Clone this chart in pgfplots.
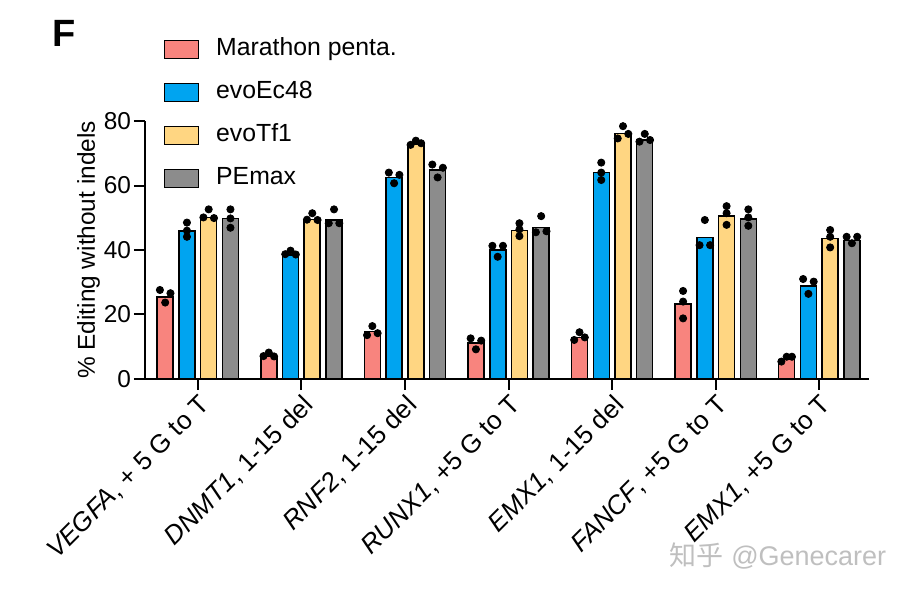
\documentclass[border=0pt]{standalone}
\usepackage{fontspec}
\setmainfont{Liberation Sans}
\newfontfamily\cjk{Noto Sans CJK SC}
\usepackage{pgfplots}
\usepackage{pgfplotstable}
\pgfplotsset{compat=1.18}

\definecolor{cPink}{RGB}{248,132,126}
\definecolor{cBlue}{RGB}{0,164,240}
\definecolor{cYellow}{RGB}{255,214,130}
\definecolor{cGrey}{RGB}{140,140,140}

% Mean values per target site (x = site index)
\pgfplotstableread{
x  mara  ec48  tf1   pemax
0  25.5  45.9  50.1  49.8
1   6.9  38.4  49.5  49.3
2  14.7  62.5  72.8  64.8
3  11.1  40.0  46.0  47.0
4  12.9  64.0  76.2  74.1
5  23.2  43.8  50.6  49.6
6   6.1  28.9  43.6  43.0
}\means

% Replicates: x = site, d = horizontal jitter slot (-1, 0, 1), y = value
\pgfplotstableread{
x d y
0 -1 27.6
0  1 26.6
0  0 23.7
1  0 8.2
1 -1 7.1
1  1 7.0
2  0 16.4
2 -1 13.6
2  1 14.2
3 -1 12.6
3  1 11.9
3  0 9.2
4  0 14.5
4 -1 12.1
4  1 12.9
5  0 27.3
5  0 24.0
5  0 18.8
6 -1 5.4
6  0 6.9
6  1 6.9
}\repMara

\pgfplotstableread{
x d y
0  0 48.5
0  0 46.0
0  0 44.1
1  0 39.8
1 -1 38.7
1  1 38.6
2 -1 64.0
2  1 63.3
2  0 60.7
3 -1 41.3
3  1 41.3
3  0 37.9
4  0 67.1
4  0 64.0
4  0 61.7
5  0 49.3
5 -1 41.5
5  1 41.5
6 -1 31.0
6  1 30.2
6  0 26.4
}\repEc

\pgfplotstableread{
x d y
0  0 52.6
0 -1 50.1
0  1 49.9
1  0 51.4
1 -1 49.4
1  1 49.3
2 -1 72.6
2  0 73.9
2  1 73.1
3  0 48.3
3  0 46.4
3  0 44.3
4  0 78.4
4  1 76.0
4 -1 74.6
5  0 53.6
5  0 51.4
5  0 47.8
6  0 46.2
6  0 44.1
6  0 40.8
}\repTf

\pgfplotstableread{
x d y
0  0 52.6
0  0 49.8
0  0 46.9
1  0 52.6
1 -1 48.3
1  1 48.3
2 -1 66.5
2  1 65.5
2  0 62.5
3  0 50.5
3 -1 45.5
3  1 45.8
4  0 76.0
4 -1 73.6
4  1 74.1
5  0 52.6
5  0 50.1
5  0 47.5
6 -1 44.1
6  1 44.1
6  0 42.1
}\repPe

\pgfplotsset{
  mybar/.style={
    ybar, bar width=8pt, draw=black, line width=0.75pt,
    legend image code/.code={
      \draw[##1, line width=0.75pt] (0pt,-4.5pt) rectangle (17pt,4.5pt);}
  },
  reps/.style={
    only marks, mark=*, mark size=1.8pt, black, forget plot,
    mark options={draw=black, fill=black}
  }
}

\begin{document}
\begin{tikzpicture}
\useasboundingbox (-72.5pt,-106.5pt) rectangle (382.5pt,189.5pt);
\begin{axis}[
  at={(0pt,0pt)}, anchor=south west,
  scale only axis, width=362pt, height=129pt,
  xmin=-0.51, xmax=6.48, ymin=0, ymax=80,
  axis x line*=bottom, axis y line*=left,
  axis line style={line width=1pt, black},
  tick align=outside, major tick length=5.5pt,
  tick style={line width=1pt, black},
  xtick={0,...,6},
  xticklabels={
    {\textit{VEGFA}, + 5 G to T},
    {\textit{DNMT1}, 1-15 del},
    {\textit{RNF2}, 1-15 del},
    {\textit{RUNX1}, +5 G to T},
    {\textit{EMX1}, 1-15 del},
    {\textit{FANCF}, +5 G to T},
    {\textit{EMX1}, +5 G to T}},
  xticklabel style={rotate=45, anchor=north east, font=\fontsize{13}{15}\selectfont, inner sep=1pt},
  ytick={0,20,40,60,80},
  yticklabel style={font=\fontsize{12.2}{14}\selectfont, xshift=2pt},
  /pgf/number format/assume math mode=true,
  ylabel={\% Editing without indels},
  ylabel style={font=\fontsize{12.2}{14}\selectfont},
  ylabel shift=-5pt,
  clip=false,
  legend cell align=left,
  legend style={
    at={(0.017,1.337)}, anchor=north west, draw=none, fill=none,
    font=\fontsize{12.4}{14}\selectfont,
    row sep=10.5pt,
    nodes={inner sep=0pt, text height=8.6pt, text depth=2.4pt},
    /tikz/every odd column/.append style={column sep=8.5pt},
  },
]
\addplot[mybar, bar shift=-16.3pt, fill=cPink]   table[x=x, y=mara]  {\means};
\addlegendentry{Marathon penta.}
\addplot[mybar, bar shift=-5.4pt,  fill=cBlue]   table[x=x, y=ec48]  {\means};
\addlegendentry{evoEc48}
\addplot[mybar, bar shift=5.4pt,   fill=cYellow] table[x=x, y=tf1]   {\means};
\addlegendentry{evoTf1}
\addplot[mybar, bar shift=16.3pt,  fill=cGrey]   table[x=x, y=pemax] {\means};
\addlegendentry{PEmax}

% replicate points, placed over their bar with a small horizontal jitter
\addplot[reps] table[x expr=\thisrow{x}-0.315+0.051*\thisrow{d}, y=y] {\repMara};
\addplot[reps] table[x expr=\thisrow{x}-0.105+0.051*\thisrow{d}, y=y] {\repEc};
\addplot[reps] table[x expr=\thisrow{x}+0.105+0.051*\thisrow{d}, y=y] {\repTf};
\addplot[reps] table[x expr=\thisrow{x}+0.315+0.051*\thisrow{d}, y=y] {\repPe};
\end{axis}
\node[anchor=north west, inner sep=0pt, font=\fontsize{19}{22}\selectfont\bfseries] at (-46.5pt,179.5pt) {F};
\node[anchor=center, inner sep=0pt, text=black!25, font=\fontsize{13.5}{16}\selectfont] at (316.5pt,-88.5pt) {{\cjk 知乎} @Genecarer};
\end{tikzpicture}
\end{document}
